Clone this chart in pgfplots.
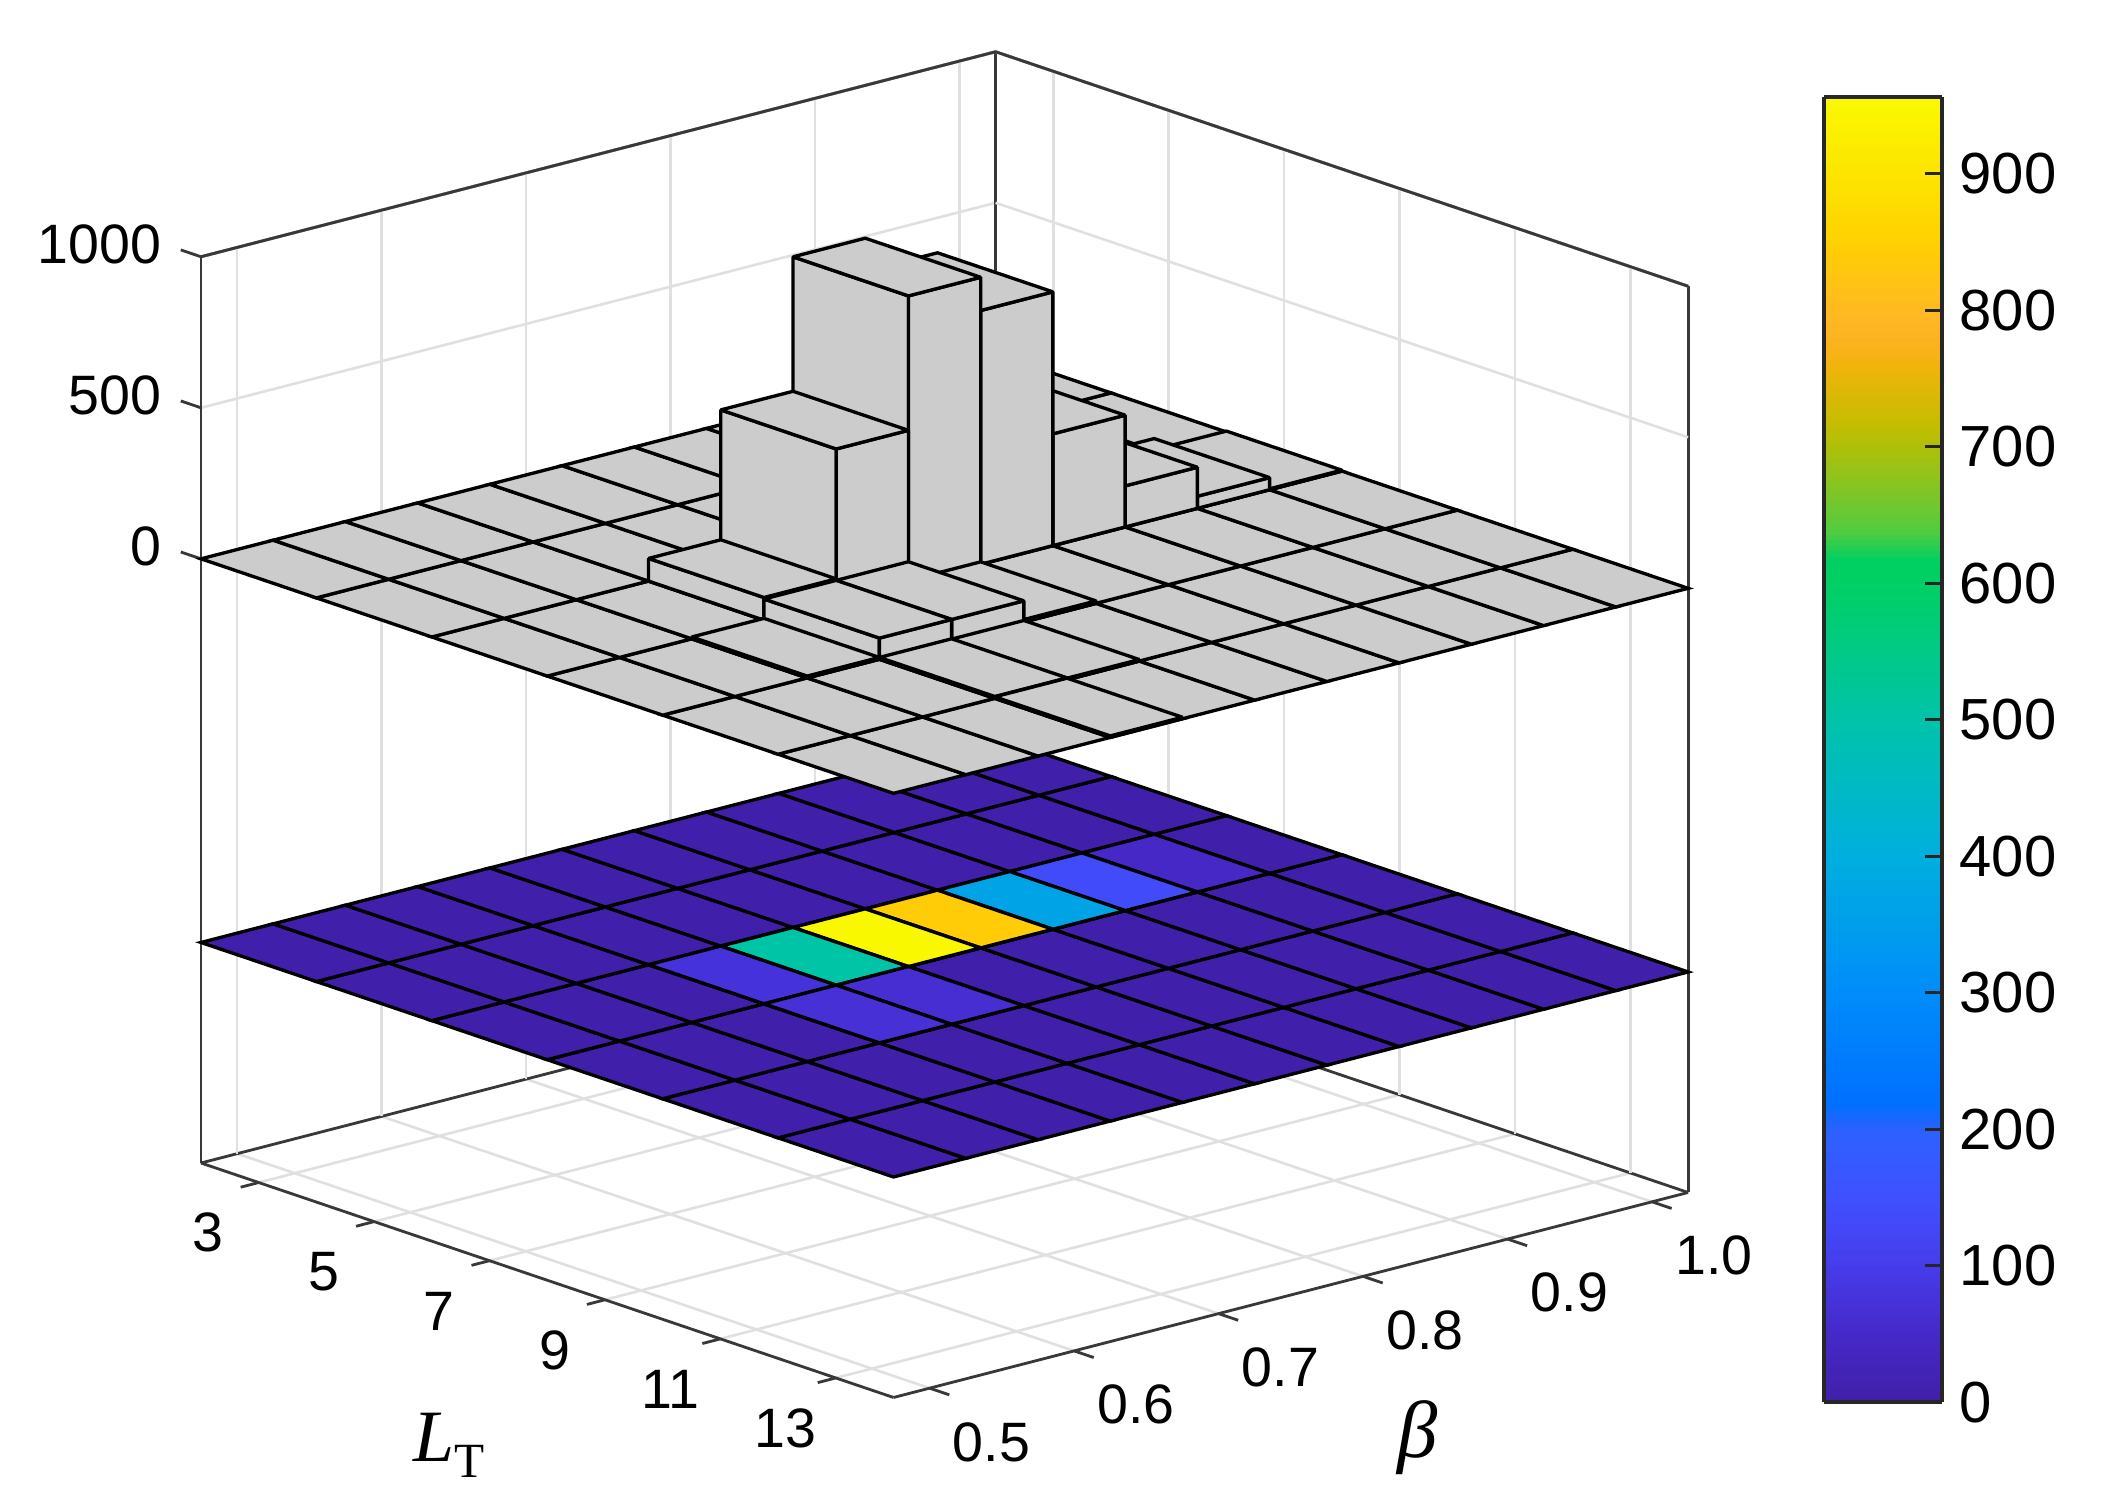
\documentclass[border=0pt]{standalone}
\usepackage{fontspec}
\setmainfont{Liberation Sans}
\newfontfamily\serifit[Ligatures=TeX]{Liberation Serif}
\usepackage{pgfplots}
\pgfplotsset{compat=1.18}
\pgfplotsset{
 colormap={flatgray}{rgb255=(204,204,204) rgb255=(204,204,204)},
 colormap={chartmap}{
  rgb255=(64,32,168) rgb255=(66,35,181) rgb255=(69,38,194) rgb255=(70,44,207) rgb255=(70,52,221)
  rgb255=(70,60,235) rgb255=(68,68,243) rgb255=(65,76,251) rgb255=(61,83,255) rgb255=(52,91,255)
  rgb255=(45,96,255) rgb255=(0,112,255) rgb255=(0,119,254) rgb255=(0,126,252) rgb255=(0,133,251)
  rgb255=(0,140,250) rgb255=(0,147,245) rgb255=(0,154,239) rgb255=(0,161,233) rgb255=(0,167,228)
  rgb255=(0,174,223) rgb255=(0,179,213) rgb255=(0,183,202) rgb255=(0,187,192) rgb255=(0,191,181)
  rgb255=(0,195,171) rgb255=(0,197,157) rgb255=(0,200,143) rgb255=(0,203,129) rgb255=(0,205,115)
  rgb255=(0,208,101) rgb255=(0,208,97) rgb255=(80,204,65) rgb255=(113,199,48) rgb255=(142,196,30)
  rgb255=(171,192,12) rgb255=(197,189,1) rgb255=(218,184,6) rgb255=(239,180,10) rgb255=(252,178,32)
  rgb255=(255,184,35) rgb255=(255,193,23) rgb255=(255,202,9) rgb255=(255,211,0) rgb255=(254,219,0)
  rgb255=(253,227,0) rgb255=(252,234,0) rgb255=(251,242,0) rgb255=(250,250,0)},
 tick label style={font=\fontsize{15.8}{18}\selectfont},
 boxline/.style={draw=black!78, line width=0.8pt, forget plot},
}
\begin{document}
\begin{tikzpicture}
\path[use as bounding box] (0,0) rectangle (21.01,15.02);
\begin{axis}[
 at={(2.01cm,1.045cm)}, anchor=south west,
 x={(0.5771cm,-0.1954cm)}, y={(14.447cm,3.727cm)}, z={(0cm,0.003028cm)},
 xmin=2, xmax=14, ymin=0.475, ymax=1.025, zmin=-2000, zmax=1000,
 point meta min=0, point meta max=956,
 colormap name=chartmap,
 clip=false,
 xtick={3,5,7,9,11,13}, ytick={0.5,0.6,0.7,0.8,0.9,1.0}, ztick={0,500,1000},
 tick pos=left,
 /pgf/number format/assume math mode=true,
 /pgf/number format/1000 sep={},
 yticklabel style={/pgf/number format/fixed, /pgf/number format/fixed zerofill, /pgf/number format/precision=1, anchor=center, xshift=0.42cm, yshift=-0.47cm},
 xticklabel style={anchor=center, xshift=-0.30cm, yshift=-0.45cm},
 zticklabel style={anchor=east, xshift=-0.07cm, yshift=0.18cm},
 scaled z ticks=false,
 grid=major,
 major grid style={draw=black!12, line width=0.75pt},
 axis line style={draw=black!78, line width=0.8pt},
 tick style={draw=none},
 tick align=outside, major tick length=0.21cm,
 colorbar sampled,
 colorbar style={
  samples=240,
  at={(parent axis.north east)}, anchor=north west, xshift=1.06cm, yshift=-0.455cm,
  width=1.18cm, height=13.05cm, scale only axis,
  ytick={0,100,200,300,400,500,600,700,800,900},
  ytick pos=right, tick align=inside, major tick length=0.17cm,
  tick style={draw=black!85, line width=0.8pt},
  yticklabel style={xshift=0.05cm, font=\fontsize{16.5}{18}\selectfont},
  /pgf/number format/assume math mode=true,
  axis line style={draw=black!85, line width=1pt},
 },
]
% top edges of the box
\addplot3[boxline] coordinates {(2,0.475,1000)(2,1.025,1000)(14,1.025,1000)};
% tick marks
\addplot3[boxline] coordinates {(3,0.475,-2000)(3,0.4625,-2000)};
\addplot3[boxline] coordinates {(5,0.475,-2000)(5,0.4625,-2000)};
\addplot3[boxline] coordinates {(7,0.475,-2000)(7,0.4625,-2000)};
\addplot3[boxline] coordinates {(9,0.475,-2000)(9,0.4625,-2000)};
\addplot3[boxline] coordinates {(11,0.475,-2000)(11,0.4625,-2000)};
\addplot3[boxline] coordinates {(13,0.475,-2000)(13,0.4625,-2000)};
\addplot3[boxline] coordinates {(14,0.5,-2000)(14.34,0.5,-2000)};
\addplot3[boxline] coordinates {(14,0.6,-2000)(14.34,0.6,-2000)};
\addplot3[boxline] coordinates {(14,0.7,-2000)(14.34,0.7,-2000)};
\addplot3[boxline] coordinates {(14,0.8,-2000)(14.34,0.8,-2000)};
\addplot3[boxline] coordinates {(14,0.9,-2000)(14.34,0.9,-2000)};
\addplot3[boxline] coordinates {(14,1.0,-2000)(14.34,1.0,-2000)};
\addplot3[boxline] coordinates {(2,0.475,0)(1.65,0.475,0)};
\addplot3[boxline] coordinates {(2,0.475,500)(1.65,0.475,500)};
\addplot3[boxline] coordinates {(2,0.475,1000)(1.65,0.475,1000)};
% lower map: background cells
\addplot3[surf, shader=faceted, faceted color=black, line width=0.95pt, mesh/rows=7, mesh/cols=12, point meta=3] coordinates {
(2,0.475,-1270)(2,0.525,-1270)(2,0.575,-1270)(2,0.625,-1270)(2,0.675,-1270)(2,0.725,-1270)(2,0.775,-1270)(2,0.825,-1270)(2,0.875,-1270)(2,0.925,-1270)(2,0.975,-1270)(2,1.025,-1270)
(4,0.475,-1270)(4,0.525,-1270)(4,0.575,-1270)(4,0.625,-1270)(4,0.675,-1270)(4,0.725,-1270)(4,0.775,-1270)(4,0.825,-1270)(4,0.875,-1270)(4,0.925,-1270)(4,0.975,-1270)(4,1.025,-1270)
(6,0.475,-1270)(6,0.525,-1270)(6,0.575,-1270)(6,0.625,-1270)(6,0.675,-1270)(6,0.725,-1270)(6,0.775,-1270)(6,0.825,-1270)(6,0.875,-1270)(6,0.925,-1270)(6,0.975,-1270)(6,1.025,-1270)
(8,0.475,-1270)(8,0.525,-1270)(8,0.575,-1270)(8,0.625,-1270)(8,0.675,-1270)(8,0.725,-1270)(8,0.775,-1270)(8,0.825,-1270)(8,0.875,-1270)(8,0.925,-1270)(8,0.975,-1270)(8,1.025,-1270)
(10,0.475,-1270)(10,0.525,-1270)(10,0.575,-1270)(10,0.625,-1270)(10,0.675,-1270)(10,0.725,-1270)(10,0.775,-1270)(10,0.825,-1270)(10,0.875,-1270)(10,0.925,-1270)(10,0.975,-1270)(10,1.025,-1270)
(12,0.475,-1270)(12,0.525,-1270)(12,0.575,-1270)(12,0.625,-1270)(12,0.675,-1270)(12,0.725,-1270)(12,0.775,-1270)(12,0.825,-1270)(12,0.875,-1270)(12,0.925,-1270)(12,0.975,-1270)(12,1.025,-1270)
(14,0.475,-1270)(14,0.525,-1270)(14,0.575,-1270)(14,0.625,-1270)(14,0.675,-1270)(14,0.725,-1270)(14,0.775,-1270)(14,0.825,-1270)(14,0.875,-1270)(14,0.925,-1270)(14,0.975,-1270)(14,1.025,-1270)
};
% lower map: non-zero cells
\addplot3[patch, patch type=rectangle, shader=faceted, faceted color=black, line width=0.95pt, point meta=explicit] coordinates {
(6,0.625,-1270)[75](8,0.625,-1270)[75](8,0.675,-1270)[75](6,0.675,-1270)[75]
(6,0.675,-1270)[505](8,0.675,-1270)[505](8,0.725,-1270)[505](6,0.725,-1270)[505]
(6,0.725,-1270)[950](8,0.725,-1270)[950](8,0.775,-1270)[950](6,0.775,-1270)[950]
(6,0.775,-1270)[840](8,0.775,-1270)[840](8,0.825,-1270)[840](6,0.825,-1270)[840]
(6,0.825,-1270)[370](8,0.825,-1270)[370](8,0.875,-1270)[370](6,0.875,-1270)[370]
(6,0.875,-1270)[136](8,0.875,-1270)[136](8,0.925,-1270)[136](6,0.925,-1270)[136]
(6,0.925,-1270)[45](8,0.925,-1270)[45](8,0.975,-1270)[45](6,0.975,-1270)[45]
(8,0.625,-1270)[70](10,0.625,-1270)[70](10,0.675,-1270)[70](8,0.675,-1270)[70]
(8,0.675,-1270)[65](10,0.675,-1270)[65](10,0.725,-1270)[65](8,0.725,-1270)[65]
};
% gray plane at z=0
\addplot3[surf, shader=faceted, faceted color=black, line width=0.95pt, colormap name=flatgray, mesh/rows=7, mesh/cols=12, point meta=3] coordinates {
(2,0.475,0)(2,0.525,0)(2,0.575,0)(2,0.625,0)(2,0.675,0)(2,0.725,0)(2,0.775,0)(2,0.825,0)(2,0.875,0)(2,0.925,0)(2,0.975,0)(2,1.025,0)
(4,0.475,0)(4,0.525,0)(4,0.575,0)(4,0.625,0)(4,0.675,0)(4,0.725,0)(4,0.775,0)(4,0.825,0)(4,0.875,0)(4,0.925,0)(4,0.975,0)(4,1.025,0)
(6,0.475,0)(6,0.525,0)(6,0.575,0)(6,0.625,0)(6,0.675,0)(6,0.725,0)(6,0.775,0)(6,0.825,0)(6,0.875,0)(6,0.925,0)(6,0.975,0)(6,1.025,0)
(8,0.475,0)(8,0.525,0)(8,0.575,0)(8,0.625,0)(8,0.675,0)(8,0.725,0)(8,0.775,0)(8,0.825,0)(8,0.875,0)(8,0.925,0)(8,0.975,0)(8,1.025,0)
(10,0.475,0)(10,0.525,0)(10,0.575,0)(10,0.625,0)(10,0.675,0)(10,0.725,0)(10,0.775,0)(10,0.825,0)(10,0.875,0)(10,0.925,0)(10,0.975,0)(10,1.025,0)
(12,0.475,0)(12,0.525,0)(12,0.575,0)(12,0.625,0)(12,0.675,0)(12,0.725,0)(12,0.775,0)(12,0.825,0)(12,0.875,0)(12,0.925,0)(12,0.975,0)(12,1.025,0)
(14,0.475,0)(14,0.525,0)(14,0.575,0)(14,0.625,0)(14,0.675,0)(14,0.725,0)(14,0.775,0)(14,0.825,0)(14,0.875,0)(14,0.925,0)(14,0.975,0)(14,1.025,0)
};
% gray bars, back to front
\addplot3[patch, patch type=rectangle, shader=faceted, faceted color=black, line width=0.95pt, colormap name=flatgray, point meta=3, z buffer=none] coordinates {
(6,0.975,0)(8,0.975,0)(8,0.975,3)(6,0.975,3)
(8,0.975,0)(8,1.025,0)(8,1.025,3)(8,0.975,3)
(6,0.975,3)(8,0.975,3)(8,1.025,3)(6,1.025,3)
(6,0.925,0)(8,0.925,0)(8,0.925,40)(6,0.925,40)
(8,0.925,0)(8,0.975,0)(8,0.975,40)(8,0.925,40)
(6,0.925,40)(8,0.925,40)(8,0.975,40)(6,0.975,40)
(6,0.875,0)(8,0.875,0)(8,0.875,136)(6,0.875,136)
(8,0.875,0)(8,0.925,0)(8,0.925,136)(8,0.875,136)
(6,0.875,136)(8,0.875,136)(8,0.925,136)(6,0.925,136)
(6,0.825,0)(8,0.825,0)(8,0.825,370)(6,0.825,370)
(8,0.825,0)(8,0.875,0)(8,0.875,370)(8,0.825,370)
(6,0.825,370)(8,0.825,370)(8,0.875,370)(6,0.875,370)
(6,0.775,0)(8,0.775,0)(8,0.775,840)(6,0.775,840)
(8,0.775,0)(8,0.825,0)(8,0.825,840)(8,0.775,840)
(6,0.775,840)(8,0.775,840)(8,0.825,840)(6,0.825,840)
(6,0.725,0)(8,0.725,0)(8,0.725,950)(6,0.725,950)
(8,0.725,0)(8,0.775,0)(8,0.775,950)(8,0.725,950)
(6,0.725,950)(8,0.725,950)(8,0.775,950)(6,0.775,950)
(6,0.675,0)(8,0.675,0)(8,0.675,505)(6,0.675,505)
(8,0.675,0)(8,0.725,0)(8,0.725,505)(8,0.675,505)
(6,0.675,505)(8,0.675,505)(8,0.725,505)(6,0.725,505)
(6,0.625,0)(8,0.625,0)(8,0.625,75)(6,0.625,75)
(8,0.625,0)(8,0.675,0)(8,0.675,75)(8,0.625,75)
(6,0.625,75)(8,0.625,75)(8,0.675,75)(6,0.675,75)
(8,0.725,0)(10,0.725,0)(10,0.725,8)(8,0.725,8)
(10,0.725,0)(10,0.775,0)(10,0.775,8)(10,0.725,8)
(8,0.725,8)(10,0.725,8)(10,0.775,8)(8,0.775,8)
(8,0.675,0)(10,0.675,0)(10,0.675,70)(8,0.675,70)
(10,0.675,0)(10,0.725,0)(10,0.725,70)(10,0.675,70)
(8,0.675,70)(10,0.675,70)(10,0.725,70)(8,0.725,70)
(8,0.625,0)(10,0.625,0)(10,0.625,70)(8,0.625,70)
(10,0.625,0)(10,0.675,0)(10,0.675,70)(10,0.625,70)
(8,0.625,70)(10,0.625,70)(10,0.675,70)(8,0.675,70)
(8,0.575,0)(10,0.575,0)(10,0.575,6)(8,0.575,6)
(10,0.575,0)(10,0.625,0)(10,0.625,6)(10,0.575,6)
(8,0.575,6)(10,0.575,6)(10,0.625,6)(8,0.625,6)
(10,0.675,0)(12,0.675,0)(12,0.675,5)(10,0.675,5)
(12,0.675,0)(12,0.725,0)(12,0.725,5)(12,0.675,5)
(10,0.675,5)(12,0.675,5)(12,0.725,5)(10,0.725,5)
(10,0.625,0)(12,0.625,0)(12,0.625,6)(10,0.625,6)
(12,0.625,0)(12,0.675,0)(12,0.675,6)(12,0.625,6)
(10,0.625,6)(12,0.625,6)(12,0.675,6)(10,0.675,6)
(12,0.625,0)(14,0.625,0)(14,0.625,5)(12,0.625,5)
(14,0.625,0)(14,0.675,0)(14,0.675,5)(14,0.625,5)
(12,0.625,5)(14,0.625,5)(14,0.675,5)(12,0.675,5)
};
\end{axis}
\node at (4.49,0.57) {\fontsize{21}{24}\selectfont\serifit\textit{L}\raisebox{-0.22em}{\fontsize{14}{16}\selectfont T}};
\node at (14.18,0.64) {\fontsize{23}{24}\selectfont\serifit\textit{β}};
\end{tikzpicture}
\end{document}
